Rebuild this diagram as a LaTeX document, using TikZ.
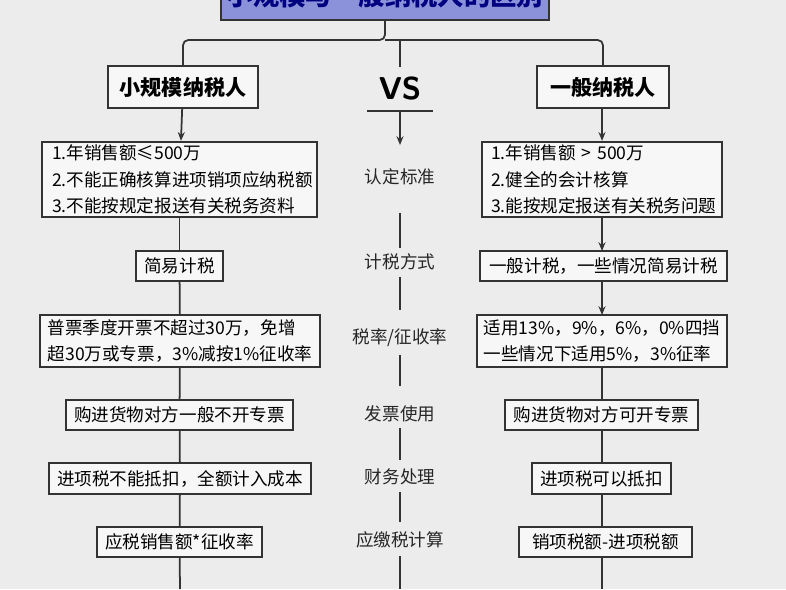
\documentclass[tikz,border=0pt]{standalone}
\usepackage{fontspec}
\setmainfont{Noto Sans CJK SC}
\usetikzlibrary{arrows.meta}
\definecolor{bgray}{HTML}{ECECEC}
\definecolor{boxline}{HTML}{333333}
\definecolor{titleblue}{HTML}{8C92DA}
\def\u{0.02cm}
\tikzset{
  box/.style={draw=boxline, line width=1.3pt, fill=white!60!bgray, inner sep=0pt,
    font=\fontsize{10}{15}\selectfont},
  link/.style={draw=boxline, line width=1pt},
  arr/.style={link, -{Stealth[length=5pt,width=4pt]}},
  label/.style={font=\fontsize{10}{12}\selectfont, text=black!85}
}
\begin{document}
\begin{tikzpicture}[x=0.02cm, y=-0.02cm]
    \fill[bgray] (0,0) rectangle (786,589);
    \useasboundingbox (0,0) rectangle (786,589);

    % title
    \node[draw=boxline, line width=1pt, fill=titleblue, minimum width=326*\u, minimum height=50*\u,
      font=\bfseries\fontsize{15}{15}\selectfont, text=blue!50!black] (title) at (385,-5) {小规模与一般纳税人的区别};

    % heads
    \node[box, font=\bfseries\fontsize{12}{14}\selectfont, minimum width=150*\u, minimum height=42*\u] (lhead) at (183,87) {小规模纳税人};
    \node[box, font=\bfseries\fontsize{12}{14}\selectfont, minimum width=132*\u, minimum height=42*\u] (rhead) at (603,87) {一般纳税人};
    \node[font=\sffamily\bfseries\fontsize{18}{18}\selectfont] (vs) at (400,89) {VS};
    \coordinate (vsl) at (367,111);
    \coordinate (vsr) at (433,111);
    \coordinate (vsb) at (400,111);
    \coordinate (split) at (385,40);

    \draw[link, rounded corners=3pt] (title.south) -- (split) -| (lhead.north);
    \draw[link, rounded corners=3pt] (split) -| (rhead.north);
    \draw[link] (400,40) -- (400,67);
    \draw[link] (vsl) -- (vsr);
    \draw[arr] (vsb) -- (400,145);

    % left column
    \node[box, minimum width=275*\u, minimum height=75*\u, text width=255*\u, align=left] (l1) at (179.5,179.5)
      {1.年销售额≤500万\\2.不能正确核算进项销项应纳税额\\3.不能按规定报送有关税务资料};
    \node[box, minimum width=87*\u, minimum height=30*\u] (l2) at (179.5,266) {简易计税};
    \node[box, minimum width=280*\u, minimum height=52*\u, align=left] (l3) at (180,341)
      {普票季度开票不超过30万，免增\\超30万或专票，3\%减按1\%征收率};
    \node[box, minimum width=227*\u, minimum height=30*\u] (l4) at (179.5,415) {购进货物对方一般不开专票};
    \node[box, minimum width=262*\u, minimum height=31*\u] (l5) at (180,478.5) {进项税不能抵扣，全额计入成本};
    \node[box, minimum width=165*\u, minimum height=30*\u] (l6) at (179.5,542) {应税销售额*征收率};
    \coordinate (lend) at (180,589);

    \draw[arr] (lhead) -- (l1);
    \draw[link] (l1) -- (l2);
    \draw[link] (l2) -- (l3);
    \draw[link] (l3) -- (l4);
    \draw[link] (l4) -- (l5);
    \draw[link] (l5) -- (l6);
    \draw[link] (l6) -- (lend);

    % right column
    \node[box, minimum width=240*\u, minimum height=75*\u, text width=222*\u, align=left] (r1) at (602,179.5)
      {1.年销售额 > 500万\\2.健全的会计核算\\3.能按规定报送有关税务问题};
    \node[box, minimum width=247*\u, minimum height=30*\u] (r2) at (603.5,266) {一般计税，一些情况简易计税};
    \node[box, minimum width=250*\u, minimum height=52*\u, align=left] (r3) at (602,341)
      {适用13\%，9\%，6\%，0\%四挡\\一些情况下适用5\%，3\%征率};
    \node[box, minimum width=193*\u, minimum height=30*\u] (r4) at (601.5,415) {购进货物对方可开专票};
    \node[box, minimum width=139*\u, minimum height=31*\u] (r5) at (601.5,478.5) {进项税可以抵扣};
    \node[box, minimum width=173*\u, minimum height=30*\u] (r6) at (605.5,542) {销项税额-进项税额};
    \coordinate (rend) at (602,589);

    \draw[arr] (rhead.south -| r1.north) -- (r1.north);
    \draw[arr] (r1.south -| 602,0) -- (602,251);
    \draw[arr] (602,281) -- (602,315);
    \draw[link] (602,367) -- (602,400);
    \draw[link] (602,430) -- (602,463);
    \draw[link] (602,494) -- (602,527);
    \draw[link] (602,557) -- (rend);

    % middle labels
    \node[label] (m1) at (400,177) {认定标准};
    \node[label] (m2) at (400,262) {计税方式};
    \node[label] (m3) at (400,338) {税率/征收率};
    \node[label] (m4) at (400,414) {发票使用};
    \node[label] (m5) at (400,477) {财务处理};
    \node[label] (m6) at (400,540) {应缴税计算};
    \coordinate (mend) at (400,589);
    \draw[link] (400,213) -- (400,248);
    \draw[link] (400,277) -- (400,310);
    \draw[link] (400,355) -- (400,386);
    \draw[link] (400,428) -- (400,460);
    \draw[link] (400,492) -- (400,522);
    \draw[link] (400,556) -- (mend);
\end{tikzpicture}
\end{document}
